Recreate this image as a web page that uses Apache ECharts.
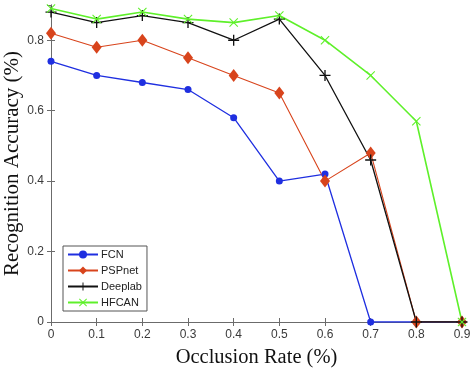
<!DOCTYPE html>
<html><head><meta charset="utf-8">
<script src="https://cdn.jsdelivr.net/npm/echarts@6/dist/echarts.min.js"></script>
<style>html,body{margin:0;padding:0;background:#fff}#c{width:474px;height:372px}</style>
</head><body><div id="c"></div>
<script>
const occlusionRates = [0, 0.1, 0.2, 0.3, 0.4, 0.5, 0.6, 0.7, 0.8, 0.9];
const fcn     = [0.74, 0.70, 0.68, 0.66, 0.58, 0.40, 0.42, 0, 0, 0];
const pspnet  = [0.82, 0.78, 0.80, 0.75, 0.70, 0.65, 0.40, 0.48, 0, 0];
const deeplab = [0.88, 0.85, 0.87, 0.85, 0.80, 0.86, 0.70, 0.46, 0, 0];
const hfcan   = [0.89, 0.86, 0.88, 0.86, 0.85, 0.87, 0.80, 0.70, 0.57, 0];
const seriesNames = ['FCN', 'PSPnet', 'Deeplab', 'HFCAN'];

const pair = arr => occlusionRates.map((x, i) => [x, arr[i]]);
const plusPath = 'path://M4.4,0H5.6V4.4H10V5.6H5.6V10H4.4V5.6H0V4.4H4.4Z';
const xPath = 'path://M1,0.2L5,4.2L9,0.2L9.8,1L5.8,5L9.8,9L9,9.8L5,5.8L1,9.8L0.2,9L4.2,5L0.2,1Z';
const axisCol = '#6b6b6b';
const labelStyle = {color: '#3a3a3a', fontFamily: 'Liberation Sans, Arial, sans-serif', fontSize: 12};

const chart = echarts.init(document.getElementById('c'), null, {renderer: 'canvas'});
chart.setOption({
  animation: false,
  backgroundColor: '#fff',
  grid: {left: 51, right: 12, top: 5, bottom: 50, containLabel: false, outerBoundsMode: 'none'},
  legend: {
    left: 63, top: 246, orient: 'vertical',
    itemWidth: 30, itemHeight: 10, itemGap: 5,
    padding: [3, 5, 3, 4],
    borderColor: '#555', borderWidth: 1, backgroundColor: '#fff',
    textStyle: {color: '#222', fontFamily: 'Liberation Sans, Arial, sans-serif', fontSize: 11, padding: [0,0,0,-2]},
    data: seriesNames
  },
  xAxis: [{
    type: 'value', min: 0, max: 0.9, interval: 0.1,
    name: 'Occlusion Rate (%)', nameLocation: 'middle', nameGap: 25, nameMoveOverlap: false,
    nameTextStyle: {fontFamily: 'Liberation Serif, Times New Roman, serif', fontSize: 20.5, color: '#111'},
    axisLine: {show: true, onZero: false, lineStyle: {color: axisCol, width: 1}},
    axisTick: {show: true, inside: true, length: 4, lineStyle: {color: axisCol}},
    axisLabel: Object.assign({margin: 7}, labelStyle),
    splitLine: {show: false}
  }, {
    type: 'value', position: 'top', min: 0, max: 0.9, interval: 0.1,
    axisLine: {show: true, lineStyle: {color: axisCol, width: 1}},
    axisTick: {show: true, inside: true, length: 4, lineStyle: {color: axisCol}},
    axisLabel: {show: false}, splitLine: {show: false}
  }],
  yAxis: [{
    type: 'value', min: 0, max: 0.9, interval: 0.2,
    name: 'Recognition Accuracy (%)', nameLocation: 'middle', nameGap: 28, nameMoveOverlap: false,
    nameTextStyle: {fontFamily: 'Liberation Serif, Times New Roman, serif', fontSize: 21, color: '#111'},
    axisLine: {show: true, onZero: false, lineStyle: {color: axisCol, width: 1}},
    axisTick: {show: true, inside: true, length: 4, lineStyle: {color: axisCol}},
    axisLabel: Object.assign({margin: 7, showMaxLabel: false}, labelStyle),
    splitLine: {show: false}
  }, {
    type: 'value', position: 'right', min: 0, max: 0.9, interval: 0.2,
    axisLine: {show: true, lineStyle: {color: axisCol, width: 1}},
    axisTick: {show: true, inside: true, length: 4, lineStyle: {color: axisCol}},
    axisLabel: {show: false}, splitLine: {show: false}
  }],
  series: [
    {name: 'FCN', type: 'line', data: pair(fcn), symbol: 'circle', symbolSize: 7,
     lineStyle: {color: '#1f2fe0', width: 1.3}, itemStyle: {color: '#1f2fe0'}},
    {name: 'PSPnet', type: 'line', data: pair(pspnet), symbol: 'diamond', symbolSize: [10, 13],
     lineStyle: {color: '#d8441c', width: 1.1}, itemStyle: {color: '#d8441c'}},
    {name: 'Deeplab', type: 'line', data: pair(deeplab), symbol: plusPath, symbolSize: 11,
     lineStyle: {color: '#111', width: 1.3}, itemStyle: {color: '#111'}},
    {name: 'HFCAN', type: 'line', data: pair(hfcan), symbol: xPath, symbolSize: 9,
     lineStyle: {color: '#5ef02a', width: 1.6}, itemStyle: {color: '#5ef02a'}}
  ]
});
</script></body></html>
